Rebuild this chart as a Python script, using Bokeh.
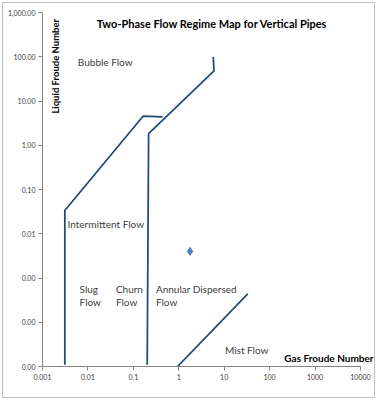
import math
from bokeh.plotting import figure
from bokeh.models import Range1d, FixedTicker, CustomJSTickFormatter, Label, InlineStyleSheet
from bokeh.embed import file_html
from bokeh.resources import INLINE

# ---- data ----
x_ticks = [0.001, 0.01, 0.1, 1, 10, 100, 1000, 10000]
y_ticks = [0.00001, 0.0001, 0.001, 0.01, 0.1, 1, 10, 100, 1000]

# bubble / intermittent boundary
bubble_x = [0.0031, 0.0031, 0.165, 0.44]
bubble_y = [0.000011, 0.0336, 4.58, 4.35]
# churn / annular boundary
annular_x = [0.202, 0.217, 5.97, 5.75]
annular_y = [0.000011, 1.83, 47.7, 99.0]
# mist boundary
mist_x = [0.94, 33.0]
mist_y = [0.00001, 0.00044]
# operating point
point_x = [1.77]
point_y = [0.0040]

LINE = "#1F497D"
FONT = "Lato"

border_css = InlineStyleSheet(css=":host { outline: 1px solid #BFBFBF; outline-offset: -3px; background: white; }")

p = figure(width=377, height=400, x_axis_type="log", y_axis_type="log",
           x_range=Range1d(0.001, 20400), y_range=Range1d(0.00001, 1000),
           output_backend="svg", toolbar_location=None,
           min_border_left=42, min_border_right=3, min_border_top=12, min_border_bottom=34,
           stylesheets=[border_css])
p.frame_width = 332
p.frame_height = 354
p.outline_line_color = None
p.grid.visible = False
p.background_fill_color = None
p.border_fill_color = None

for ax in (p.xaxis[0], p.yaxis[0]):
    ax.axis_line_color = "#868686"
    ax.major_tick_line_color = "#868686"
    ax.minor_tick_line_color = None
    ax.major_tick_in = 0
    ax.major_tick_out = 4
    ax.major_label_text_font = FONT
    ax.major_label_text_font_size = "7px"
    ax.major_label_text_color = "#404040"
    ax.major_label_standoff = 3

p.xaxis[0].bounds = (0.001, 10000)
p.xaxis[0].ticker = FixedTicker(ticks=x_ticks)
p.yaxis[0].ticker = FixedTicker(ticks=y_ticks)
p.xaxis[0].formatter = CustomJSTickFormatter(code="return tick >= 1 ? tick.toFixed(0) : String(tick);")
p.yaxis[0].formatter = CustomJSTickFormatter(
    code="return tick.toLocaleString('en-US', {minimumFractionDigits: 2, maximumFractionDigits: 2});")

p.line(bubble_x, bubble_y, line_color=LINE, line_width=1.75)
p.line(annular_x, annular_y, line_color=LINE, line_width=1.75)
p.line(mist_x, mist_y, line_color=LINE, line_width=1.75)
p.scatter(point_x, point_y, marker="diamond", size=8, fill_color="#4F81BD", line_color="#4F81BD")

def lab(x, y, text, size="10px", bold=False, align="left", color="#404040", angle=0.0):
    p.add_layout(Label(x=x, y=y, text=text, text_font=FONT, text_font_size=size,
                       text_font_style="bold" if bold else "normal", text_align=align,
                       text_baseline="middle", text_color=color, angle=angle))

lab(5.39, 573, "Two-Phase Flow Regime Map for Vertical Pipes", size="11px", bold=True, align="center", color="#000000")
lab(0.006, 76, "Bubble Flow")
lab(0.00356, 0.0169, "Intermittent Flow")
lab(0.00655, 0.00055, "Slug")
lab(0.00655, 0.000284, "Flow")
lab(0.0413, 0.00055, "Churn")
lab(0.0413, 0.000284, "Flow")
lab(0.314, 0.00055, "Annular Dispersed")
lab(0.314, 0.000284, "Flow")
lab(10.4, 0.0000238, "Mist Flow")
lab(19400, 0.0000154, "Gas Froude Number", size="10px", bold=True, align="right", color="#000000")
lab(0.00196, 61, "Liquid Froude Number", size="9.5px", bold=True, align="center", color="#000000", angle=math.pi / 2)

open("out.html", "w").write(file_html(p, INLINE))
